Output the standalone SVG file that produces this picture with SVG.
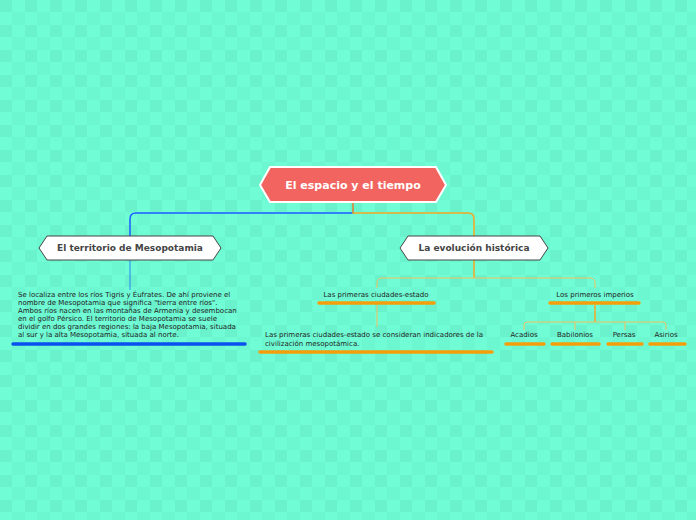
<svg xmlns="http://www.w3.org/2000/svg" width="696" height="520" viewBox="0 0 696 520">
<defs>
<pattern id="bg" width="25" height="25" patternUnits="userSpaceOnUse">
<rect width="25" height="25" fill="#70fdd6"/>
<rect x="0" y="0" width="12" height="12" fill="#6af2cc"/>
<rect x="12" y="12" width="13" height="13" fill="#6af2cc" opacity="0.5"/>
</pattern>
<style>
text{font-family:"DejaVu Sans",sans-serif;}
.b{fill:none;stroke:#1a5cff;stroke-width:1.5}
.o{fill:none;stroke:#f5a623;stroke-width:1.5}
.t{fill:none;stroke:#f0c060;stroke-width:1}
.ul{stroke:#f59e0b;stroke-width:3.5;stroke-linecap:round}
.hex{fill:#fff;stroke:#444;stroke-width:1}
.h{font-size:9px;font-weight:bold;fill:#444;text-anchor:middle}
.s{font-size:7px;fill:#222}
.c{text-anchor:middle}
</style>
</defs>
<rect width="696" height="520" fill="url(#bg)"/>
<g id="connectors">
<path class="b" d="M353 202V213H136Q130 213 130 219V236"/>
<path class="o" d="M353 202V213H468Q474 213 474 219V236"/>
<path class="b" d="M130 260V290" opacity="0.5"/>
<path class="o" d="M474 260V278"/>
<path class="t" d="M377 288V283Q377 278 382 278H590Q595 278 595 283V288"/>
<path class="t" d="M377 305V327"/>
<path class="o" d="M595 305V322"/>
<path class="t" d="M524 330V325Q524 322 527 322H663Q666 322 666 325V330M575 322V330M625 322V330"/>
</g>
<g id="root">
<polygon points="260,185 270,167 436,167 446,185 436,202 270,202" fill="#f26460" stroke="#fff" stroke-width="2"/>
<text x="353" y="189" font-size="11" font-weight="bold" fill="#fff" text-anchor="middle">El espacio y el tiempo</text>
</g>
<g id="n1">
<polygon class="hex" points="39,248 47,236 213,236 221,248 213,260 47,260"/>
<text class="h" x="130" y="251">El territorio de Mesopotamia</text>
</g>
<g id="n2">
<polygon class="hex" points="400,248 408,236 540,236 548,248 540,260 408,260"/>
<text class="h" x="474" y="251">La evolución histórica</text>
</g>
<g id="n1a">
<text class="s" x="18" y="297">Se localiza entre los ríos Tigris y Éufrates. De ahí proviene el</text>
<text class="s" x="18" y="305">nombre de Mesopotamia que significa "tierra entre ríos".</text>
<text class="s" x="18" y="313">Ambos ríos nacen en las montañas de Armenia y desembocan</text>
<text class="s" x="18" y="321">en el golfo Pérsico. El territorio de Mesopotamia se suele</text>
<text class="s" x="18" y="329">dividir en dos grandes regiones: la baja Mesopotamia, situada</text>
<text class="s" x="18" y="337">al sur y la alta Mesopotamia, situada al norte.</text>
<line x1="13" y1="344" x2="245" y2="344" stroke="#0a4ff0" stroke-width="3.5" stroke-linecap="round"/>
</g>
<g id="n2a">
<text class="s c" x="376" y="297">Las primeras ciudades-estado</text>
<line class="ul" x1="319" y1="303" x2="434" y2="303"/>
</g>
<g id="n2b">
<text class="s c" x="595" y="297">Los primeros imperios</text>
<line class="ul" x1="550" y1="303" x2="639" y2="303"/>
</g>
<g id="n2a1">
<text class="s" x="265" y="337">Las primeras ciudades-estado se consideran indicadores de la</text>
<text class="s" x="265" y="346">civilización mesopotámica.</text>
<line class="ul" x1="260" y1="352" x2="492" y2="352"/>
</g>
<g id="acadios"><text class="s c" x="524" y="337">Acadios</text><line class="ul" x1="506" y1="344" x2="544" y2="344"/></g>
<g id="babilonios"><text class="s c" x="575" y="337">Babilonios</text><line class="ul" x1="552" y1="344" x2="599" y2="344"/></g>
<g id="persas"><text class="s c" x="624" y="337">Persas</text><line class="ul" x1="608" y1="344" x2="642" y2="344"/></g>
<g id="asirios"><text class="s c" x="666" y="337">Asirios</text><line class="ul" x1="650" y1="344" x2="685" y2="344"/></g>
</svg>
